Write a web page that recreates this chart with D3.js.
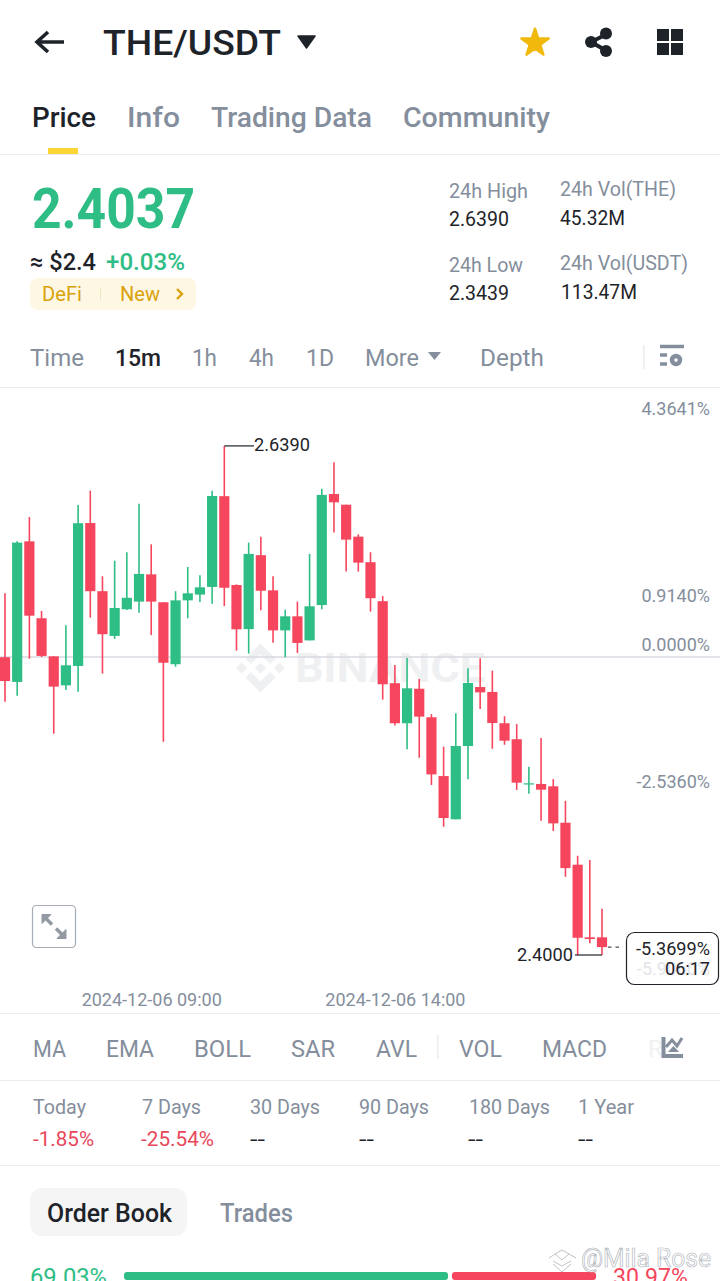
<!DOCTYPE html>
<html>
<head>
<meta charset="utf-8">
<script src="https://cdn.jsdelivr.net/npm/d3@7"></script>
<style>
  html, body { margin: 0; padding: 0; background: #fff; overflow: hidden; }
  svg { display: block; font-family: Roboto, sans-serif; }
</style>
</head>
<body>
<svg id="chart" width="720" height="1281"></svg>
<script>
// candle values, oldest first
const opens = [2.5398,2.5282,2.5942,2.5581,2.5402,2.5266,2.5357,2.6028,2.5708,2.5498,2.5623,2.5659,2.5787,2.5656,2.5365,2.5665,2.5692,2.5728,2.6154,2.5737,2.5530,2.5877,2.5712,2.5524,2.5590,2.5477,2.5643,2.6164,2.6114,2.5964,2.5844,2.5661,2.5276,2.5088,2.5250,2.5116,2.4840,2.4637,2.4981,2.5258,2.5235,2.5088,2.5013,2.4801,2.4803,2.4792,2.4621,2.4424,2.4083,2.4083];
const highs = [2.5698,2.5942,2.6056,2.5615,2.5402,2.5548,2.6113,2.6180,2.5778,2.5851,2.5891,2.6119,2.5928,2.5656,2.5708,2.5822,2.5783,2.6180,2.6390,2.5740,2.5936,2.5964,2.5778,2.5621,2.5659,2.5883,2.6189,2.6313,2.6114,2.5975,2.5891,2.5685,2.5361,2.5394,2.5296,2.5131,2.4978,2.5135,2.5346,2.5393,2.5335,2.5121,2.5084,2.4884,2.5019,2.4826,2.4724,2.4466,2.4446,2.4217];
const lows = [2.5189,2.5217,2.5391,2.5399,2.5039,2.5244,2.5236,2.5584,2.5321,2.5484,2.5620,2.5607,2.5502,2.5001,2.5353,2.5581,2.5657,2.5649,2.5638,2.5429,2.5415,2.5618,2.5466,2.5398,2.5418,2.5477,2.5623,2.5983,2.5800,2.5800,2.5612,2.5199,2.5078,2.4966,2.4926,2.4798,2.4602,2.4637,2.4825,2.5155,2.4968,2.4987,2.4775,2.4757,2.4630,2.4582,2.4367,2.4000,2.4055,2.4000];
const closes = [2.5286,2.5936,2.5593,2.5404,2.5260,2.5360,2.6027,2.5708,2.5506,2.5629,2.5677,2.5789,2.5659,2.5372,2.5665,2.5698,2.5726,2.6155,2.5724,2.5529,2.5883,2.5710,2.5524,2.5590,2.5465,2.5637,2.6160,2.6125,2.5950,2.5842,2.5675,2.5271,2.5088,2.5252,2.5119,2.4848,2.4643,2.4981,2.5277,2.5233,2.5089,2.5006,2.4809,2.4806,2.4776,2.4618,2.4408,2.4081,2.4075,2.4037];

const refPrice = 2.5399;
const pctTicks = [4.3641, 0.9140, 0, -2.5360];
const timeTickIndex = [12, 32];
const timeTickLabels = ["2024-12-06 09:00", "2024-12-06 14:00"];

const GREEN = "#2EBD85", RED = "#F6465D", DARK = "#1E2329", GREY = "#848E9C", LINE = "#EAECEF";

const svg = d3.select("#chart");

// plain text helper, width squeezes the glyphs to the measured width
function label(x, y, text, size, fill, width, weight) {
  const t = svg.append("text").attr("x", x).attr("y", y).attr("font-size", size)
    .attr("fill", fill).attr("font-weight", weight || 400).text(text);
  if (width) t.attr("textLength", width).attr("lengthAdjust", "spacingAndGlyphs");
  return t;
}

function divider(y) {
  svg.append("rect").attr("x", 0).attr("y", y).attr("width", 720).attr("height", 1).attr("fill", LINE);
}

// ---- header
svg.append("path").attr("d", "M64 42H38M48 32L37 42L48 52").attr("fill", "none")
  .attr("stroke", DARK).attr("stroke-width", 3.6);
label(103, 55, "THE/USDT", 35, DARK, 178, 500);
svg.append("path").attr("d", "M298 36H315L306.5 48Z").attr("fill", DARK).attr("stroke", DARK)
  .attr("stroke-width", 1.5).attr("stroke-linejoin", "round");

svg.append("path").attr("d", d3.symbol().type(d3.symbolStar).size(230)())
  .attr("transform", "translate(535,43)").attr("fill", "#F0B90B").attr("stroke", "#F0B90B")
  .attr("stroke-width", 2.5).attr("stroke-linejoin", "round");

svg.append("path").attr("d", "M607 34L591 42L607 51").attr("fill", "none").attr("stroke", DARK).attr("stroke-width", 4);
[[606, 33.5], [591, 42], [606, 51]].forEach(c => {
  svg.append("circle").attr("cx", c[0]).attr("cy", c[1]).attr("r", 6).attr("fill", DARK);
});
[[657, 29], [671, 29], [657, 43], [671, 43]].forEach(c => {
  svg.append("rect").attr("x", c[0]).attr("y", c[1]).attr("width", 12).attr("height", 12).attr("fill", DARK);
});

// ---- tabs
label(32, 127, "Price", 28, DARK, 64, 500);
label(127, 127, "Info", 28, GREY, 53, 500);
label(211, 127, "Trading Data", 28, GREY, 161, 500);
label(403, 127, "Community", 28, GREY, 147, 500);
svg.append("rect").attr("x", 48).attr("y", 148).attr("width", 30).attr("height", 6).attr("fill", "#FCD535");
divider(154);

// ---- price block
label(32, 228, "2.4037", 56, GREEN, 163, 700);
label(30, 270, "≈ $2.4", 24, DARK, 66, 500);
label(106, 270, "+0.03%", 24, GREEN, 79, 500);
svg.append("rect").attr("x", 30).attr("y", 278).attr("width", 166).attr("height", 32).attr("rx", 8).attr("fill", "#FDF7E4");
label(42, 301, "DeFi", 20, "#D9A20B", 40);
svg.append("rect").attr("x", 100).attr("y", 288).attr("width", 1).attr("height", 12).attr("fill", "#F0E4BE");
label(120, 301, "New", 20, "#D9A20B", 40);
svg.append("path").attr("d", "M177 289L182 294L177 299").attr("fill", "none").attr("stroke", "#D9A20B").attr("stroke-width", 2.4);

label(449, 198, "24h High", 20, GREY, 79);
label(449, 226, "2.6390", 20, DARK, 60);
label(560, 196, "24h Vol(THE)", 20, GREY, 116);
label(560, 225, "45.32M", 20, DARK, 65);
label(449, 272, "24h Low", 20, GREY, 74);
label(449, 300, "2.3439", 20, DARK, 60);
label(560, 270, "24h Vol(USDT)", 20, GREY, 128);
label(561, 299, "113.47M", 20, DARK, 76);

// ---- interval row
label(30, 366, "Time", 24, GREY, 54);
label(115, 366, "15m", 24, DARK, 46, 500);
label(192, 366, "1h", 24, GREY, 25);
label(249, 366, "4h", 24, GREY, 25);
label(306, 366, "1D", 24, GREY, 28);
label(365, 366, "More", 24, GREY, 54);
svg.append("path").attr("d", "M428 352H441L434.5 360Z").attr("fill", GREY);
label(480, 366, "Depth", 24, GREY, 64);
svg.append("rect").attr("x", 643).attr("y", 345).attr("width", 1.5).attr("height", 24).attr("fill", LINE);
svg.append("path").attr("d", "M660 346.5H684M660 355H667M660 364H667").attr("fill", "none").attr("stroke", GREY).attr("stroke-width", 3.4);
// gear drawn as a thick hexagon ring
svg.append("path").attr("d", d3.symbol().type(d3.symbolCircle).size(50)()).attr("transform", "translate(676,360)")
  .attr("fill", "#fff").attr("stroke", GREY).attr("stroke-width", 4.5);
divider(387);

// ---- chart
const x = d3.scaleLinear().domain([0, opens.length - 1]).range([5, 602]);
const y = d3.scaleLinear().domain([refPrice, 2.4]).range([657, 955]);
const yPct = d3.scaleLinear().domain([0, -100 * (refPrice - 2.4) / refPrice]).range([657, 955]);

// watermark sits under everything
const logoPath = "M38.73 53.2l24.59-24.58 24.6 24.6 14.3-14.31L63.32 0 24.42 38.9zM0 63.31l14.3-14.31 14.31 14.31-14.31 14.3zM38.73 73.41l24.59 24.59 24.6-24.6 14.31 14.29-38.9 38.91-38.91-38.88-.02-.02zM98 63.31l14.3-14.31 14.31 14.3-14.31 14.32zM77.83 63.3L63.32 48.78 52.59 59.51l-1.24 1.23-2.54 2.54 14.51 14.5 14.51-14.47z";
svg.append("path").attr("d", logoPath).attr("fill", "#EFF0F2").attr("transform", "translate(236,643.5) scale(0.387)");
label(295, 682, "BINANCE", 40, "#EFF0F2", 190, 700);

svg.append("line").attr("x1", 0).attr("x2", 720).attr("y1", y(refPrice)).attr("y2", y(refPrice))
  .attr("stroke", "#D8DAE0").attr("stroke-width", 1.5);

const candles = opens.map((o, i) => ({ i, o, h: highs[i], l: lows[i], c: closes[i] }));
const colorOf = d => d.c >= d.o ? GREEN : RED;

const g = svg.append("g");
g.selectAll("line.wick").data(candles).enter().append("line")
  .attr("class", "wick")
  .attr("x1", d => x(d.i)).attr("x2", d => x(d.i))
  .attr("y1", d => y(d.h)).attr("y2", d => y(d.l))
  .attr("stroke", colorOf).attr("stroke-width", 1.6);
g.selectAll("rect.body").data(candles).enter().append("rect")
  .attr("class", "body")
  .attr("x", d => x(d.i) - 5.1).attr("width", 10.2)
  .attr("y", d => y(Math.max(d.o, d.c)))
  .attr("height", d => Math.max(1.2, Math.abs(y(d.o) - y(d.c))))
  .attr("fill", colorOf);

// percent axis, labels float above their level
const yAxis = svg.append("g").attr("transform", "translate(710,0)")
  .call(d3.axisLeft(yPct).tickValues(pctTicks).tickSize(0).tickPadding(0).tickFormat(d => d.toFixed(4) + "%"));
yAxis.select(".domain").remove();
yAxis.selectAll("text").attr("font-size", 18).attr("font-family", "Roboto, sans-serif").attr("fill", GREY).attr("dy", -6.5);

const xAxis = svg.append("g").attr("transform", "translate(0,993)")
  .call(d3.axisBottom(x).tickValues(timeTickIndex).tickSize(0).tickPadding(0).tickFormat((d, i) => timeTickLabels[i]));
xAxis.select(".domain").remove();
xAxis.selectAll("text").attr("font-size", 18).attr("font-family", "Roboto, sans-serif").attr("fill", GREY);

// high and low callouts
const hiIdx = highs.indexOf(d3.max(highs));
const loIdx = lows.indexOf(d3.min(lows));
svg.append("line").attr("x1", x(hiIdx)).attr("x2", 254).attr("y1", y(highs[hiIdx])).attr("y2", y(highs[hiIdx])).attr("stroke", DARK).attr("stroke-width", 1.2);
label(254, 451, highs[hiIdx].toFixed(4), 18, DARK, 56);
svg.append("line").attr("x1", 575).attr("x2", x(lows.length - 1)).attr("y1", y(lows[loIdx])).attr("y2", y(lows[loIdx])).attr("stroke", DARK).attr("stroke-width", 1.2);
label(517, 961, lows[loIdx].toFixed(4), 18, DARK, 56);

// last price tag
const lastY = y(closes[closes.length - 1]);
svg.append("line").attr("x1", 608).attr("x2", 620).attr("y1", lastY).attr("y2", lastY)
  .attr("stroke", DARK).attr("stroke-width", 1).attr("stroke-dasharray", "3.5 4");
svg.append("rect").attr("x", 626.5).attr("y", 932.5).attr("width", 92).attr("height", 52).attr("rx", 8)
  .attr("fill", "#fff").attr("stroke", DARK).attr("stroke-width", 1.2);
label(637, 975, "-5.9060%", 18, "#E3E5E8", 73);
label(636, 955, "-5.3699%", 18, DARK, 74);
label(665, 975, "06:17", 18, DARK, 45);

// expand button
svg.append("rect").attr("x", 32.5).attr("y", 905.5).attr("width", 43).attr("height", 42).attr("rx", 4)
  .attr("fill", "#fff").attr("stroke", "#A6ACB4").attr("stroke-width", 1.2);
svg.append("path").attr("d", "M42 914.5H51L42 923.5ZM66 938.5H57L66 929.5Z").attr("fill", "#9299A3").attr("stroke", "#9299A3").attr("stroke-width", 1);
svg.append("path").attr("d", "M46 918.5L52 924.5M56 928.5L62 934.5").attr("stroke", "#9299A3").attr("stroke-width", 3.5);

divider(1013);

// ---- indicator row
label(33, 1057, "MA", 24, GREY, 33);
label(106, 1057, "EMA", 24, GREY, 48);
label(194, 1057, "BOLL", 24, GREY, 57);
label(291, 1057, "SAR", 24, GREY, 44);
label(376, 1057, "AVL", 24, GREY, 41);
svg.append("rect").attr("x", 437).attr("y", 1035).attr("width", 1.5).attr("height", 24).attr("fill", LINE);
label(459, 1057, "VOL", 24, GREY, 43);
label(542, 1057, "MACD", 24, GREY, 65);
label(648, 1057, "R", 24, "#F0F1F3", 15);
svg.append("rect").attr("x", 661).attr("y", 1036).attr("width", 23).attr("height", 24).attr("fill", "#fff");
svg.append("path").attr("d", "M663.5 1037V1056H683").attr("fill", "none").attr("stroke", GREY).attr("stroke-width", 4);
svg.append("path").attr("d", "M666 1047L672 1040L677 1046L682 1038").attr("fill", "none").attr("stroke", GREY).attr("stroke-width", 3);
svg.append("path").attr("d", "M668 1052H679L673.5 1046Z").attr("fill", GREY);
divider(1080);

// ---- period returns
label(33, 1114, "Today", 20, GREY, 53);
label(142, 1114, "7 Days", 20, GREY, 59);
label(250, 1114, "30 Days", 20, GREY, 70);
label(359, 1114, "90 Days", 20, GREY, 70);
label(469, 1114, "180 Days", 20, GREY, 81);
label(578, 1114, "1 Year", 20, GREY, 56);
label(33, 1146, "-1.85%", 20, "#E8475B", 61);
label(141, 1146, "-25.54%", 20, "#E8475B", 73);
[250, 359, 468, 578].forEach(px => label(px, 1146, "--", 20, DARK, 15));
divider(1165);

// ---- order book
svg.append("rect").attr("x", 30).attr("y", 1188).attr("width", 157).attr("height", 48).attr("rx", 12).attr("fill", "#F5F5F5");
label(47, 1222, "Order Book", 25, DARK, 125, 500);
label(220, 1222, "Trades", 25, GREY, 73, 500);

label(30, 1285, "69.03%", 24, GREEN, 77);
svg.append("rect").attr("x", 124).attr("y", 1272).attr("width", 324).attr("height", 8).attr("rx", 3).attr("fill", GREEN);
svg.append("rect").attr("x", 452).attr("y", 1272).attr("width", 144).attr("height", 8).attr("rx", 3).attr("fill", RED);
label(613, 1285, "30.97%", 24, RED, 75);

// repost watermark
svg.append("path").attr("d", "M549 1258L555 1254L562 1260L569 1254L576 1258M555 1254L562 1250L569 1254M553 1261L562 1266L571 1261M553 1264L562 1272L571 1264")
  .attr("fill", "none").attr("stroke", "#BFC3C8").attr("stroke-width", 1);
label(581, 1267, "@Mila Rose", 26, "#fff", 130).attr("stroke", "#B4B8BE").attr("stroke-width", 0.7);
</script>
</body>
</html>
